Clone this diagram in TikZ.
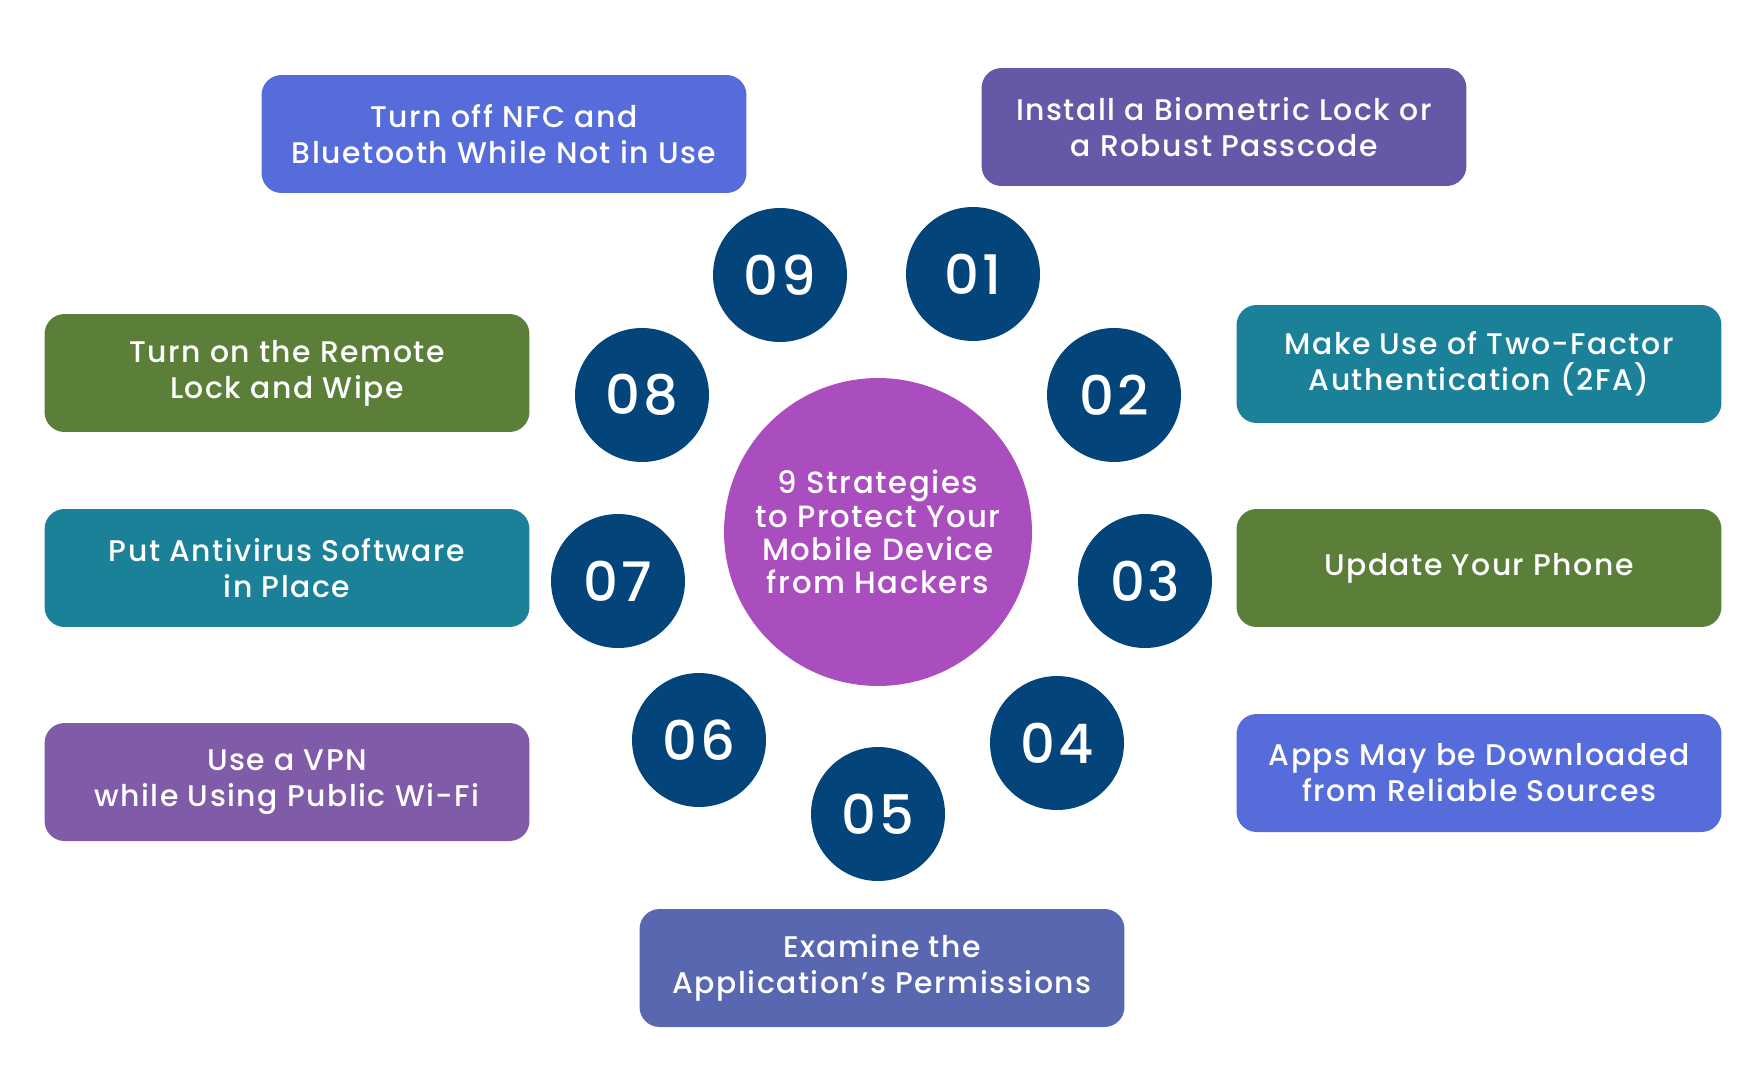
\documentclass[tikz,border=0pt]{standalone}
\usepackage{fontspec}
\IfFontExistsTF{Poppins Medium}
  {\setmainfont{Poppins Medium}[LetterSpace=5]}
  {\setmainfont{Poppins}[LetterSpace=5]}
\usepackage{xcolor}
\usetikzlibrary{positioning}
\definecolor{navy}{HTML}{03457A}
\definecolor{hubpurple}{HTML}{AA4DBF}
\definecolor{tipblue}{HTML}{566CDB}
\definecolor{tipviolet}{HTML}{6459A6}
\definecolor{tipteal}{HTML}{1A8198}
\definecolor{tipgreen}{HTML}{5B7F39}
\definecolor{tippurple}{HTML}{7F5BA8}
\definecolor{tipslate}{HTML}{5966B0}

\begin{document}
\begin{tikzpicture}[
  x=0.02cm, y=-0.02cm,
  tip/.style={rounded corners=0.4cm, align=center, text=white, minimum width=9.7cm, minimum height=2.36cm,
    font=\fontsize{17}{20.5}\selectfont},
  num/.style={circle, fill=navy, text=white, minimum size=2.68cm, inner sep=0pt, font=\fontsize{31}{32}\selectfont},
  hub/.style={circle, fill=hubpurple, text=white, minimum size=6.16cm, inner sep=0pt, align=center,
    font=\fontsize{17.5}{19}\selectfont}
]
\useasboundingbox (0,0) rectangle (1753,1088);
\node[hub] (hub) at (878,532) {9 Strategies\\to Protect Your\\Mobile Device\\from Hackers};
\node[num] (n1) at (973,274) {01};
\node[num] (n2) at (1114,395) {02};
\node[num] (n3) at (1145,581) {03};
\node[num] (n4) at (1057,743) {04};
\node[num] (n5) at (878,814) {05};
\node[num] (n6) at (699,740) {06};
\node[num] (n7) at (618,581) {07};
\node[num] (n8) at (642,395) {08};
\node[num] (n9) at (780,275) {09};
\node[tip, fill=tipviolet] (bio) at (1224,127) {Install a Biometric Lock or\\a Robust Passcode};
\node[tip, fill=tipteal] (tfa) at (1479,364) {Make Use of Two-Factor\\Authentication (2FA)};
\node[tip, fill=tipgreen] (upd) at (1479,568) {Update Your Phone};
\node[tip, fill=tipblue] (apps) at (1479,773) {Apps May be Downloaded\\from Reliable Sources};
\node[tip, fill=tipslate] (perm) at (882,968) {Examine the\\Application's Permissions};
\node[tip, fill=tippurple] (vpn) at (287,782) {Use a VPN\\while Using Public Wi-Fi};
\node[tip, fill=tipteal] (av) at (287,568) {Put Antivirus Software\\in Place};
\node[tip, fill=tipgreen] (wipe) at (287,373) {Turn on the Remote\\Lock and Wipe};
\node[tip, fill=tipblue] (nfc) at (504,134) {Turn off NFC and\\Bluetooth While Not in Use};
\end{tikzpicture}
\end{document}
